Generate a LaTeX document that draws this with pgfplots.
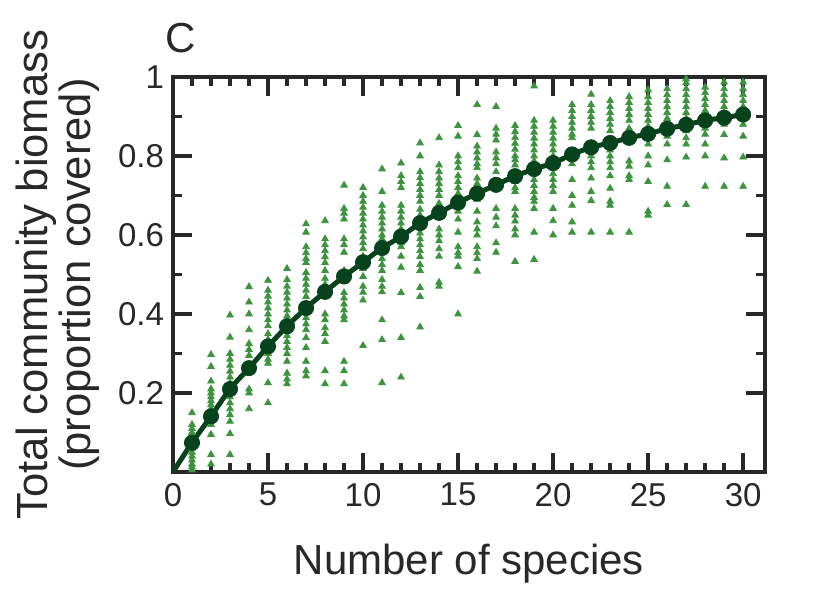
\documentclass[border=0pt]{standalone}
\usepackage{pgfplots}
\pgfplotsset{compat=1.18}
\usepackage{fontspec}
\setmainfont{Liberation Sans}
\definecolor{axgray}{RGB}{40,40,40}
\definecolor{ptgreen}{RGB}{60,148,62}
\definecolor{lngreen}{RGB}{6,66,28}
\begin{document}
\begin{tikzpicture}
\begin{axis}[
  name=ax,
  scale only axis,
  width=296pt, height=197.5pt,
  xmin=0, xmax=31.15, ymin=0, ymax=1,
  xtick={0,5,...,30},
  ytick={0.2,0.4,0.6,0.8,1},
  yticklabels={0.2,0.4,0.6,0.8,1},
  minor x tick num=4,
  minor y tick num=1,
  tick align=inside,
  xtick pos=both, ytick pos=both,
  major tick length=9.5pt,
  minor tick length=4.5pt,
  every tick/.style={axgray, line width=1.7pt},
  axis line style={axgray, line width=1.7pt},
  /pgf/number format/assume math mode=true,
  ticklabel style={font=\fontsize{16.5}{16.5}\selectfont, text=axgray},
  xticklabel style={yshift=-2pt},
  yticklabel style={xshift=-1pt},
  xlabel={Number of species},
  xlabel style={font=\fontsize{21}{21}\selectfont, text=axgray, at={(axis description cs:0.5,0)}, anchor=base, yshift=-51.5pt},
  ylabel={Total community biomass\\(proportion covered)},
  ylabel style={font=\fontsize{21.8}{20}\selectfont, text=axgray, align=center, at={(axis description cs:-0.1943,0.5)}, anchor=center},
  clip=false,
]
\addplot[only marks, mark=triangle*, mark size=1.9pt, color=ptgreen] coordinates {
(1,0.15)(1,0.12)(1,0.11)(1,0.10)(1,0.095)(1,0.085)(1,0.075)(1,0.065)(1,0.06)(1,0.05)(1,0.04)(1,0.03)(1,0.02)(1,0.013)(1,0.005)
(2,0.297)(2,0.267)(2,0.23)(2,0.21)(2,0.2)(2,0.19)(2,0.18)(2,0.17)(2,0.16)(2,0.15)(2,0.136)(2,0.12)(2,0.095)(2,0.044)(2,0.02)
(3,0.397)(3,0.341)(3,0.30)(3,0.285)(3,0.27)(3,0.255)(3,0.24)(3,0.225)(3,0.205)(3,0.19)(3,0.175)(3,0.16)(3,0.145)(3,0.128)(3,0.097)(3,0.044)
(4,0.469)(4,0.43)(4,0.40)(4,0.36)(4,0.325)(4,0.31)(4,0.295)(4,0.265)(4,0.21)(4,0.2)(4,0.16)
(5,0.485)(5,0.46)(5,0.445)(5,0.43)(5,0.415)(5,0.4)(5,0.385)(5,0.37)(5,0.35)(5,0.335)(5,0.315)(5,0.30)(5,0.285)(5,0.275)(5,0.226)(5,0.175)
(6,0.515)(6,0.487)(6,0.47)(6,0.455)(6,0.44)(6,0.425)(6,0.41)(6,0.395)(6,0.385)(6,0.36)(6,0.345)(6,0.33)(6,0.315)(6,0.30)(6,0.28)(6,0.25)(6,0.235)(6,0.223)
(7,0.628)(7,0.607)(7,0.57)(7,0.555)(7,0.54)(7,0.53)(7,0.505)(7,0.49)(7,0.475)(7,0.46)(7,0.444)(7,0.415)(7,0.39)(7,0.375)(7,0.36)(7,0.34)(7,0.315)(7,0.28)(7,0.256)(7,0.243)
(8,0.636)(8,0.59)(8,0.575)(8,0.56)(8,0.545)(8,0.53)(8,0.51)(8,0.49)(8,0.475)(8,0.46)(8,0.4)(8,0.385)(8,0.365)(8,0.35)(8,0.33)(8,0.256)(8,0.223)
(9,0.726)(9,0.667)(9,0.655)(9,0.64)(9,0.59)(9,0.575)(9,0.556)(9,0.51)(9,0.497)(9,0.487)(9,0.454)(9,0.44)(9,0.425)(9,0.41)(9,0.395)(9,0.385)(9,0.28)(9,0.256)(9,0.223)
(10,0.72)(10,0.70)(10,0.685)(10,0.67)(10,0.655)(10,0.64)(10,0.625)(10,0.61)(10,0.595)(10,0.58)(10,0.565)(10,0.546)(10,0.53)(10,0.515)(10,0.495)(10,0.47)(10,0.455)(10,0.435)(10,0.32)
(11,0.767)(11,0.71)(11,0.675)(11,0.66)(11,0.645)(11,0.63)(11,0.615)(11,0.6)(11,0.59)(11,0.54)(11,0.525)(11,0.51)(11,0.487)(11,0.47)(11,0.456)(11,0.385)(11,0.335)(11,0.226)
(12,0.782)(12,0.75)(12,0.735)(12,0.72)(12,0.675)(12,0.66)(12,0.645)(12,0.63)(12,0.615)(12,0.607)(12,0.58)(12,0.57)(12,0.546)(12,0.518)(12,0.454)(12,0.34)(12,0.24)
(13,0.833)(13,0.80)(13,0.76)(13,0.745)(13,0.73)(13,0.715)(13,0.70)(13,0.685)(13,0.665)(13,0.65)(13,0.62)(13,0.605)(13,0.59)(13,0.575)(13,0.56)(13,0.545)(13,0.525)(13,0.51)(13,0.467)(13,0.444)(13,0.367)
(14,0.846)(14,0.777)(14,0.76)(14,0.744)(14,0.73)(14,0.715)(14,0.70)(14,0.68)(14,0.66)(14,0.615)(14,0.6)(14,0.585)(14,0.565)(14,0.546)(14,0.48)(14,0.47)
(15,0.877)(15,0.85)(15,0.80)(15,0.785)(15,0.77)(15,0.75)(15,0.735)(15,0.72)(15,0.705)(15,0.69)(15,0.675)(15,0.66)(15,0.64)(15,0.607)(15,0.57)(15,0.555)(15,0.546)(15,0.52)(15,0.40)
(16,0.93)(16,0.854)(16,0.825)(16,0.81)(16,0.795)(16,0.78)(16,0.77)(16,0.744)(16,0.73)(16,0.715)(16,0.70)(16,0.69)(16,0.66)(16,0.633)(16,0.615)(16,0.60)(16,0.57)(16,0.555)(16,0.54)(16,0.508)
(17,0.925)(17,0.87)(17,0.855)(17,0.84)(17,0.81)(17,0.795)(17,0.78)(17,0.76)(17,0.735)(17,0.667)(17,0.645)(17,0.623)(17,0.58)(17,0.556)
(18,0.877)(18,0.862)(18,0.847)(18,0.832)(18,0.817)(18,0.80)(18,0.79)(18,0.777)(18,0.75)(18,0.735)(18,0.72)(18,0.71)(18,0.667)(18,0.65)(18,0.635)(18,0.615)(18,0.60)(18,0.533)
(19,0.977)(19,0.89)(19,0.875)(19,0.86)(19,0.845)(19,0.83)(19,0.815)(19,0.80)(19,0.787)(19,0.77)(19,0.755)(19,0.74)(19,0.725)(19,0.71)(19,0.695)(19,0.685)(19,0.667)(19,0.607)(19,0.538)
(20,0.89)(20,0.875)(20,0.86)(20,0.845)(20,0.83)(20,0.815)(20,0.80)(20,0.77)(20,0.755)(20,0.74)(20,0.725)(20,0.71)(20,0.667)(20,0.636)(20,0.60)
(21,0.93)(21,0.915)(21,0.90)(21,0.885)(21,0.87)(21,0.855)(21,0.846)(21,0.81)(21,0.795)(21,0.78)(21,0.74)(21,0.70)(21,0.675)(21,0.633)(21,0.607)
(22,0.956)(22,0.93)(22,0.915)(22,0.90)(22,0.885)(22,0.87)(22,0.83)(22,0.815)(22,0.80)(22,0.785)(22,0.77)(22,0.744)(22,0.71)(22,0.687)(22,0.607)
(23,0.94)(23,0.925)(23,0.91)(23,0.895)(23,0.88)(23,0.864)(23,0.83)(23,0.815)(23,0.80)(23,0.785)(23,0.77)(23,0.75)(23,0.718)(23,0.685)(23,0.675)(23,0.607)
(24,0.95)(24,0.935)(24,0.92)(24,0.905)(24,0.89)(24,0.87)(24,0.855)(24,0.787)(24,0.774)(24,0.75)(24,0.74)(24,0.607)
(25,0.967)(25,0.95)(25,0.935)(25,0.92)(25,0.905)(25,0.89)(25,0.875)(25,0.86)(25,0.845)(25,0.83)(25,0.80)(25,0.777)(25,0.735)(25,0.66)(25,0.65)
(26,0.97)(26,0.955)(26,0.94)(26,0.925)(26,0.91)(26,0.895)(26,0.88)(26,0.865)(26,0.85)(26,0.83)(26,0.79)(26,0.723)(26,0.677)
(27,0.995)(27,0.985)(27,0.97)(27,0.955)(27,0.94)(27,0.925)(27,0.91)(27,0.895)(27,0.88)(27,0.864)(27,0.846)(27,0.83)(27,0.797)(27,0.677)
(28,0.974)(28,0.96)(28,0.945)(28,0.93)(28,0.915)(28,0.90)(28,0.885)(28,0.87)(28,0.855)(28,0.83)(28,0.80)(28,0.723)
(29,0.987)(29,0.97)(29,0.955)(29,0.94)(29,0.925)(29,0.91)(29,0.895)(29,0.88)(29,0.854)(29,0.795)(29,0.723)
(30,0.987)(30,0.97)(30,0.955)(30,0.94)(30,0.925)(30,0.91)(30,0.895)(30,0.88)(30,0.85)(30,0.797)(30,0.723)
};
\addplot[smooth, no marks, color=lngreen, line width=2.5pt] coordinates {
(0,0)(1,0.074)(2,0.141)(3,0.21)(4,0.263)(5,0.318)(6,0.369)(7,0.415)(8,0.456)(9,0.495)(10,0.531)
(11,0.567)(12,0.596)(13,0.630)(14,0.656)(15,0.682)(16,0.705)(17,0.727)(18,0.749)(19,0.767)(20,0.782)
(21,0.804)(22,0.822)(23,0.833)(24,0.846)(25,0.856)(26,0.869)(27,0.879)(28,0.89)(29,0.897)(30,0.905)
};
\addplot[only marks, mark=*, mark size=3.8pt, color=lngreen] coordinates {
(1,0.074)(2,0.141)(3,0.21)(4,0.263)(5,0.318)(6,0.369)(7,0.415)(8,0.456)(9,0.495)(10,0.531)
(11,0.567)(12,0.596)(13,0.630)(14,0.656)(15,0.682)(16,0.705)(17,0.727)(18,0.749)(19,0.767)(20,0.782)
(21,0.804)(22,0.822)(23,0.833)(24,0.846)(25,0.856)(26,0.869)(27,0.879)(28,0.89)(29,0.897)(30,0.905)
};
\end{axis}
\node[anchor=base west, inner sep=0, font=\fontsize{21}{21}\selectfont, text=axgray] at ([xshift=-4pt, yshift=12pt]ax.north west) {C};
\pgfresetboundingbox
\path[use as bounding box] ([xshift=-86.5pt, yshift=-58.5pt]ax.south west) rectangle ([xshift=27.5pt, yshift=38.5pt]ax.north east);
\end{tikzpicture}
\end{document}
